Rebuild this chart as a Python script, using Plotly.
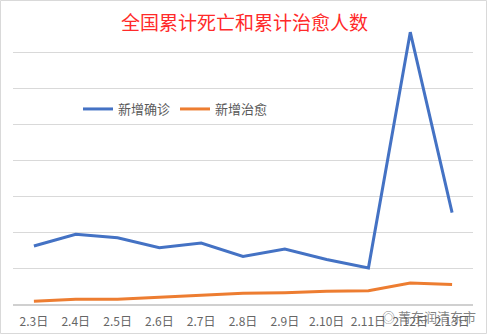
import plotly.graph_objects as go

categories = ["2.3日", "2.4日", "2.5日", "2.6日", "2.7日", "2.8日", "2.9日", "2.10日", "2.11日", "2.12日", "2.13日"]
new_confirmed = [3235, 3887, 3694, 3143, 3399, 2656, 3062, 2478, 2015, 15152, 5090]
new_cured = [157, 262, 261, 387, 510, 600, 632, 716, 744, 1171, 1081]

W, H = 488, 335
L, R, T, B = 13, 15, 17, 31
pw, ph = W - L - R, H - T - B

fig = go.Figure()
fig.add_trace(go.Scatter(x=list(range(len(categories))), y=new_confirmed, mode="lines", name="新增确诊",
                         line=dict(color="#4472C4", width=3)))
fig.add_trace(go.Scatter(x=list(range(len(categories))), y=new_cured, mode="lines", name="新增治愈",
                         line=dict(color="#ED7D31", width=3)))

def px(x):
    return (x - L) / pw

def py(y):
    return (H - B - y) / ph

fig.update_layout(
    width=W, height=H,
    margin=dict(l=L, r=R, t=T, b=B),
    paper_bgcolor="white", plot_bgcolor="white",
    font=dict(family="Noto Sans CJK SC", color="#595959"),
    showlegend=True,
    legend=dict(orientation="h", x=px(78), y=py(109), xanchor="left", yanchor="middle",
                font=dict(size=13, color="#595959"), bgcolor="rgba(0,0,0,0)",
                itemwidth=30),
    xaxis=dict(tickmode="array", tickvals=list(range(len(categories))), ticktext=categories,
               range=[-0.5, len(categories) - 0.5], showgrid=False, zeroline=False,
               showline=True, linecolor="#d0d0d0", linewidth=1.5, ticks="",
               ticklabelstandoff=6, automargin=False,
               tickfont=dict(size=12, color="#666666")),
    yaxis=dict(range=[0, 16000], dtick=2000, showgrid=True, gridcolor="#d9d9d9", gridwidth=1,
               zeroline=False, showticklabels=False, ticks="", automargin=False),
    annotations=[
        dict(text="全国累计死亡和累计治愈人数", x=px(244), y=py(22), xref="paper", yref="paper",
             showarrow=False, font=dict(size=19, color="#ff2a2a"), xanchor="center", yanchor="middle"),
        dict(text="◎ 菁东润清东市", x=px(478), y=py(316), xref="paper", yref="paper",
             showarrow=False, font=dict(size=13, color="rgba(90,90,90,0.75)"), xanchor="right", yanchor="middle"),
    ],
    shapes=[
        dict(type="rect", xref="paper", yref="paper", x0=px(0.5), x1=px(486.5), y0=py(333.5), y1=py(0.5),
             line=dict(color="#d9d9d9", width=1), fillcolor="rgba(0,0,0,0)", layer="above"),
    ],
)

fig.write_html("out.html")
